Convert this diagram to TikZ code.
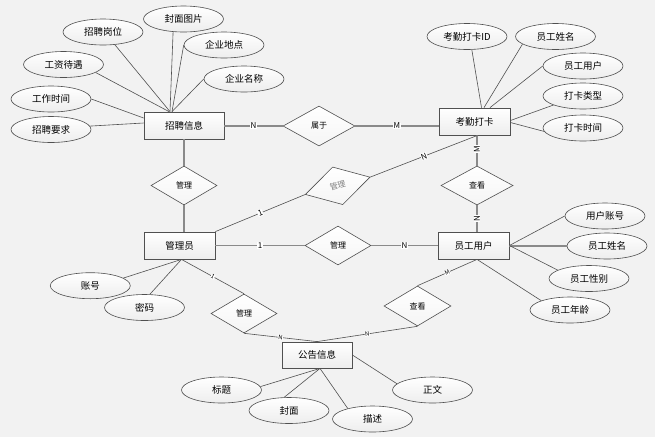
\documentclass[tikz,border=0pt]{standalone}
\usepackage{fontspec}
\setmainfont{Noto Sans CJK SC}
\usetikzlibrary{shapes.geometric,calc,shadows}
\definecolor{bg}{HTML}{F2F2F2}
\definecolor{edge}{HTML}{505050}
\definecolor{conn}{HTML}{8A8A8A}
\begin{document}
\begin{tikzpicture}[x=1pt,y=-1pt,
 ent/.style={draw=edge, line width=0.8pt, rectangle, top color=white, bottom color=gray!14,
   minimum width=71pt, minimum height=27pt, inner sep=0pt, font=\fontsize{9.5}{10}\selectfont,
   drop shadow={shadow xshift=0.8pt, shadow yshift=-0.8pt, fill=gray!40, opacity=0.6}},
 attr/.style={draw=edge, line width=0.6pt, ellipse, top color=white, bottom color=gray!14,
   minimum width=80pt, minimum height=26pt, inner sep=0pt, font=\fontsize{9.5}{10}\selectfont},
 rel/.style={draw=edge, line width=0.6pt, diamond, top color=white, bottom color=gray!8,
   minimum width=66pt, minimum height=39pt, inner sep=0pt, font=\fontsize{8}{8}\selectfont},
 conn/.style={draw=conn, line width=1.4pt},
 thinln/.style={draw=edge, line width=0.6pt},
 lbl/.style={fill=white, inner sep=0.4pt, font=\fontsize{8}{8}\selectfont},
 slbl/.style={fill=white, inner sep=0.3pt, font=\fontsize{6}{6}\selectfont},
]
\fill[bg] (0,0) rectangle (655,437);
\useasboundingbox (0,0) rectangle (655,437);

% entities and relationships
\node[ent, minimum width=80pt] (zp) at (184,125.5) {招聘信息};
\node[rel, minimum width=72pt, minimum height=40pt] (sy) at (319,126) {属于};
\node[ent] (kq) at (474.5,121.5) {考勤打卡};
\node[rel] (gl1) at (184,185.5) {管理};
\node[ent] (gly) at (179.5,245.5) {管理员};
\node[rel] (gl2) at (338,245.5) {管理};
\node[rel, minimum width=72pt] (ck1) at (477,185.5) {查看};
\node[ent] (yg) at (473.5,245.5) {员工用户};
\node[rel, rotate=15, text=gray, minimum width=67pt] (gl3) at (337.7,185.8) {管理};
\node[rel] (gl4) at (244,313.5) {管理};
\node[rel, minimum width=67pt, minimum height=40pt] (ck2) at (417.5,306) {查看};
\node[ent, minimum width=70pt, minimum height=26pt] (gg) at (317,355) {公告信息};

% attributes
\node[attr] (a1) at (103,32) {招聘岗位};
\node[attr] (a2) at (183.5,19) {封面图片};
\node[attr] (a3) at (224,45) {企业地点};
\node[attr] (a4) at (244,79) {企业名称};
\node[attr] (a5) at (63.5,64.5) {工资待遇};
\node[attr] (a6) at (51,99) {工作时间};
\node[attr] (a7) at (51,129.5) {招聘要求};

\node[attr] (k1) at (467,36.5) {考勤打卡ID};
\node[attr] (k2) at (555.5,36.5) {员工姓名};
\node[attr] (k3) at (583,66) {员工用户};
\node[attr] (k4) at (583,96) {打卡类型};
\node[attr] (k5) at (583,128) {打卡时间};

\node[attr] (g1) at (90.3,285.7) {账号};
\node[attr] (g2) at (144.5,307.5) {密码};

\node[attr] (y1) at (605,216) {用户账号};
\node[attr] (y2) at (607,246) {员工姓名};
\node[attr] (y3) at (589,278.5) {员工性别};
\node[attr] (y4) at (570,310) {员工年龄};

\node[attr] (n1) at (221.5,390) {标题};
\node[attr] (n2) at (289,410.5) {封面};
\node[attr] (n3) at (372.5,419) {描述};
\node[attr] (n4) at (432.5,390) {正文};

% main connectors
\draw[conn] (zp.east |- sy.west) -- node[lbl]{N} (sy.west);
\draw[conn] (sy.east) -- node[lbl]{M} (sy.east -| kq.west);
\draw[conn] (zp.south) -- (gl1.north);
\draw[conn] (gl1.south) -- (gl1.south |- gly.north);
\draw[conn] (ck1.north |- kq.south) -- node[lbl, rotate=90, pos=0.45]{M} (ck1.north);
\draw[conn] (ck1.south) -- node[lbl, rotate=90]{N} (ck1.south |- yg.north);
\draw[conn] (gly.east) -- node[lbl]{1} (gl2.west);
\draw[conn] (gl2.east) -- node[lbl]{N} (yg.west);

% slanted relationship lines
\draw[thinln] (gly.north east) -- node[lbl, sloped]{1} (gl3.west);
\draw[thinln] (gl3.east) -- node[lbl, sloped]{N} ([xshift=3pt]kq.south);
\draw[thinln] ([xshift=2pt]gly.south) -- node[slbl, sloped]{1} (gl4.north);
\draw[thinln] (gl4.south) -- node[slbl, sloped]{N} (gg.north);
\draw[thinln] ([xshift=3.5pt]yg.south) -- node[slbl, sloped]{M} (ck2.north);
\draw[thinln] (ck2.south) -- node[slbl, sloped]{N} (gg.north);

% attribute lines
\draw[thinln] (a1.-47) -- ([xshift=-14pt]zp.north);
\draw[thinln] (a2.-129) -- ([xshift=-14pt]zp.north);
\draw[thinln] (a3.west) -- ([xshift=-12pt]zp.north);
\draw[thinln] (a4.west) -- ([xshift=-12pt]zp.north);
\draw[thinln] (a5.-14) -- ([xshift=-15pt]zp.north);
\draw[thinln] (a6.east) -- ([yshift=7.5pt]zp.west);
\draw[thinln] (a7.5) -- ([yshift=2.5pt]zp.west);

\draw[thinln] (k1.-70) -- ([xshift=7pt]kq.north);
\draw[thinln] (k2.-167) -- ([xshift=9.5pt]kq.north);
\draw[thinln] (k3.west) -- ([xshift=15.5pt]kq.north);
\draw[thinln] (k4.-163) -- ([yshift=1pt]kq.east);
\draw[thinln] (k5.185) -- ([yshift=-1pt]kq.east);

\draw[thinln] (g1.13) -- ([xshift=2pt]gly.south);
\draw[thinln] (g2.68) -- ([xshift=2pt]gly.south);

\draw[thinln] (y1.west) -- (yg.east);
\draw[conn] (y2.west) -- (y2.west -| yg.east);
\draw[thinln] (y3.165) -- (yg.east);
\draw[thinln] (y4.162) -- ([xshift=3.5pt]yg.south);

\draw[thinln] (n1.5) -- ([xshift=3pt]gg.south);
\draw[thinln] (n2.110) -- ([xshift=3pt]gg.south);
\draw[thinln] (n3.157) -- ([xshift=3pt]gg.south);
\draw[thinln] (n4.170) -- (gg.east);
\end{tikzpicture}
\end{document}
